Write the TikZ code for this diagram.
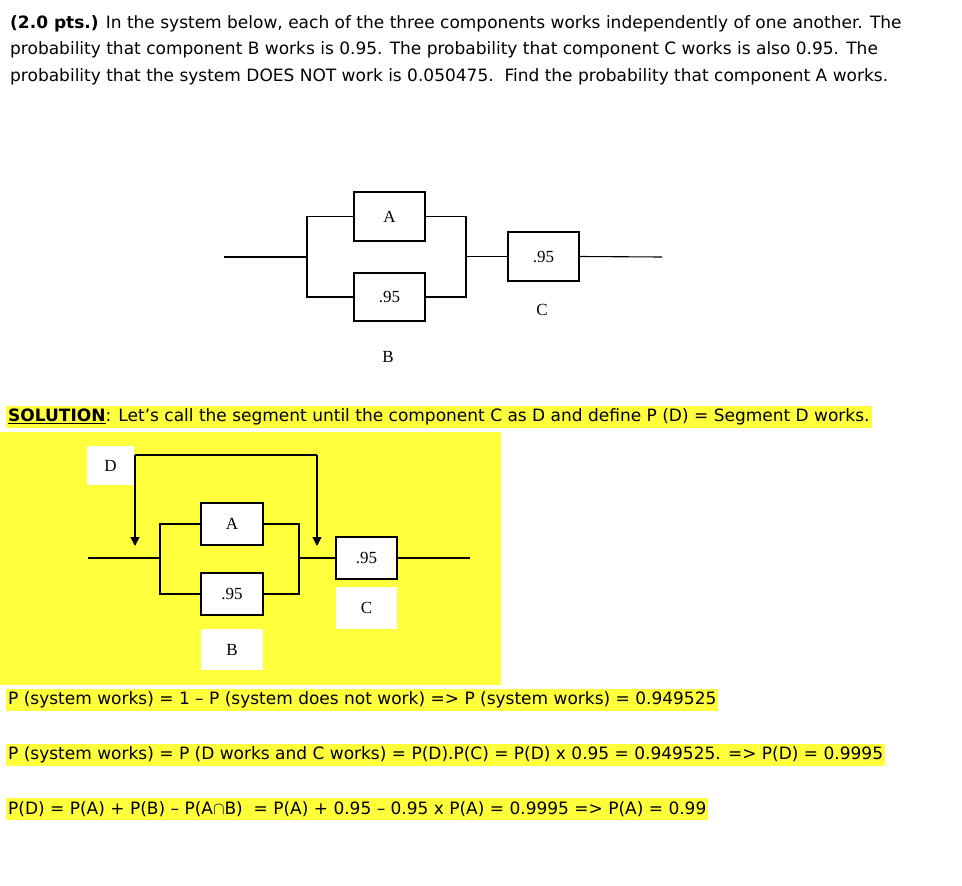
\documentclass[tikz,border=0pt]{standalone}
\usepackage{fontspec}
\setmainfont{DejaVu Sans}
\newfontfamily\serifb{Liberation Serif}
\usetikzlibrary{arrows.meta}
\definecolor{hl}{HTML}{FFFF3C}
\tikzset{
  comp/.style={draw,line width=1.1pt,fill=white,inner sep=0pt,font=\serifb\fontsize{17}{17}\selectfont},
  lbl/.style={fill=white,inner sep=0pt,font=\serifb\fontsize{17}{17}\selectfont},
  wire/.style={line width=1.1pt},
  txt/.style={anchor=west,inner sep=0pt,font=\fontsize{17}{20}\selectfont},
  hltxt/.style={txt,fill=hl,inner ysep=3pt,inner xsep=2pt},
  arr/.style={line width=1.1pt,-{Triangle[length=9pt,width=9pt]}}
}
\begin{document}
\begin{tikzpicture}[x=1pt,y=-1pt]
\useasboundingbox (0,0) rectangle (962,886);
\fill[white] (0,0) rectangle (962,886);
% title
\node[txt] (t1) at (10,24) {\textbf{(2.0 pts.)} In the system below, each of the three components works independently of one another. The};
\node[txt] (t2) at (10,50) {probability that component B works is 0.95. The probability that component C works is also 0.95. The};
\node[txt] (t3) at (10,77) {probability that the system DOES NOT work is 0.050475.\ \ Find the probability that component A works.};
% top diagram
\node[comp,minimum width=71pt,minimum height=49pt] (A1) at (389.5,216.5) {A};
\node[comp,minimum width=71pt,minimum height=48pt] (B1) at (389.5,297) {.95};
\node[comp,minimum width=71pt,minimum height=49pt] (C1) at (543.5,256.5) {.95};
\node[lbl] (Cl1) at (542,310) {C};
\node[lbl] (Bl1) at (388,357) {B};
\coordinate (in1) at (224,257);
\coordinate (out1) at (662,257);
\draw[wire] (in1) -- (307,257);
\draw[wire] (A1.west) -- (307,216.5) -- (307,297) -- (B1.west);
\draw[wire] (A1.east) -- (466,216.5) -- (466,297) -- (B1.east);
\draw[wire] (466,256.5) -- (C1.west);
\draw[wire] (C1.east) -- (out1);
% solution
\node[hltxt] (sol) at (6,417) {\underline{\textbf{SOLUTION}}: Let’s call the segment until the component C as D and define P (D) = Segment D works.};
\fill[hl] (0,432) rectangle (501,685);
\node[lbl,minimum width=47pt,minimum height=39pt] (Dl) at (110.5,465.5) {D};
\node[comp,minimum width=62pt,minimum height=42pt] (A2) at (232,524) {A};
\node[comp,minimum width=62pt,minimum height=42pt] (B2) at (232,594) {.95};
\node[comp,minimum width=61pt,minimum height=42pt] (C2) at (366.5,558) {.95};
\node[lbl,minimum width=61pt,minimum height=42pt] (Cl2) at (366.5,608) {C};
\node[lbl,minimum width=62pt,minimum height=41pt] (Bl2) at (232,649.5) {B};
\coordinate (in2) at (88,558);
\coordinate (out2) at (470,558);
\coordinate (dl) at (135,455);
\coordinate (dr) at (317,455);
\draw[wire] (in2) -- (160,558);
\draw[wire] (A2.west) -- (160,524) -- (160,594) -- (B2.west);
\draw[wire] (A2.east) -- (299,524) -- (299,594) -- (B2.east);
\draw[wire] (299,558) -- (C2.west);
\draw[wire] (C2.east) -- (out2);
\draw[wire] (dl) -- (dr);
\draw[arr] (dl) -- (135,546);
\draw[arr] (dr) -- (317,546);
% equations
\node[hltxt] (e1) at (6,700) {P (system works) = 1 – P (system does not work) => P (system works) = 0.949525};
\node[hltxt] (e2) at (6,755) {P (system works) = P (D works and C works) = P(D).P(C) = P(D) x 0.95 = 0.949525. => P(D) = 0.9995};
\node[hltxt] (e3) at (6,809) {P(D) = P(A) + P(B) – P(A$\cap$B)\ \ = P(A) + 0.95 – 0.95 x P(A) = 0.9995 => P(A) = 0.99};
\end{tikzpicture}
\end{document}
